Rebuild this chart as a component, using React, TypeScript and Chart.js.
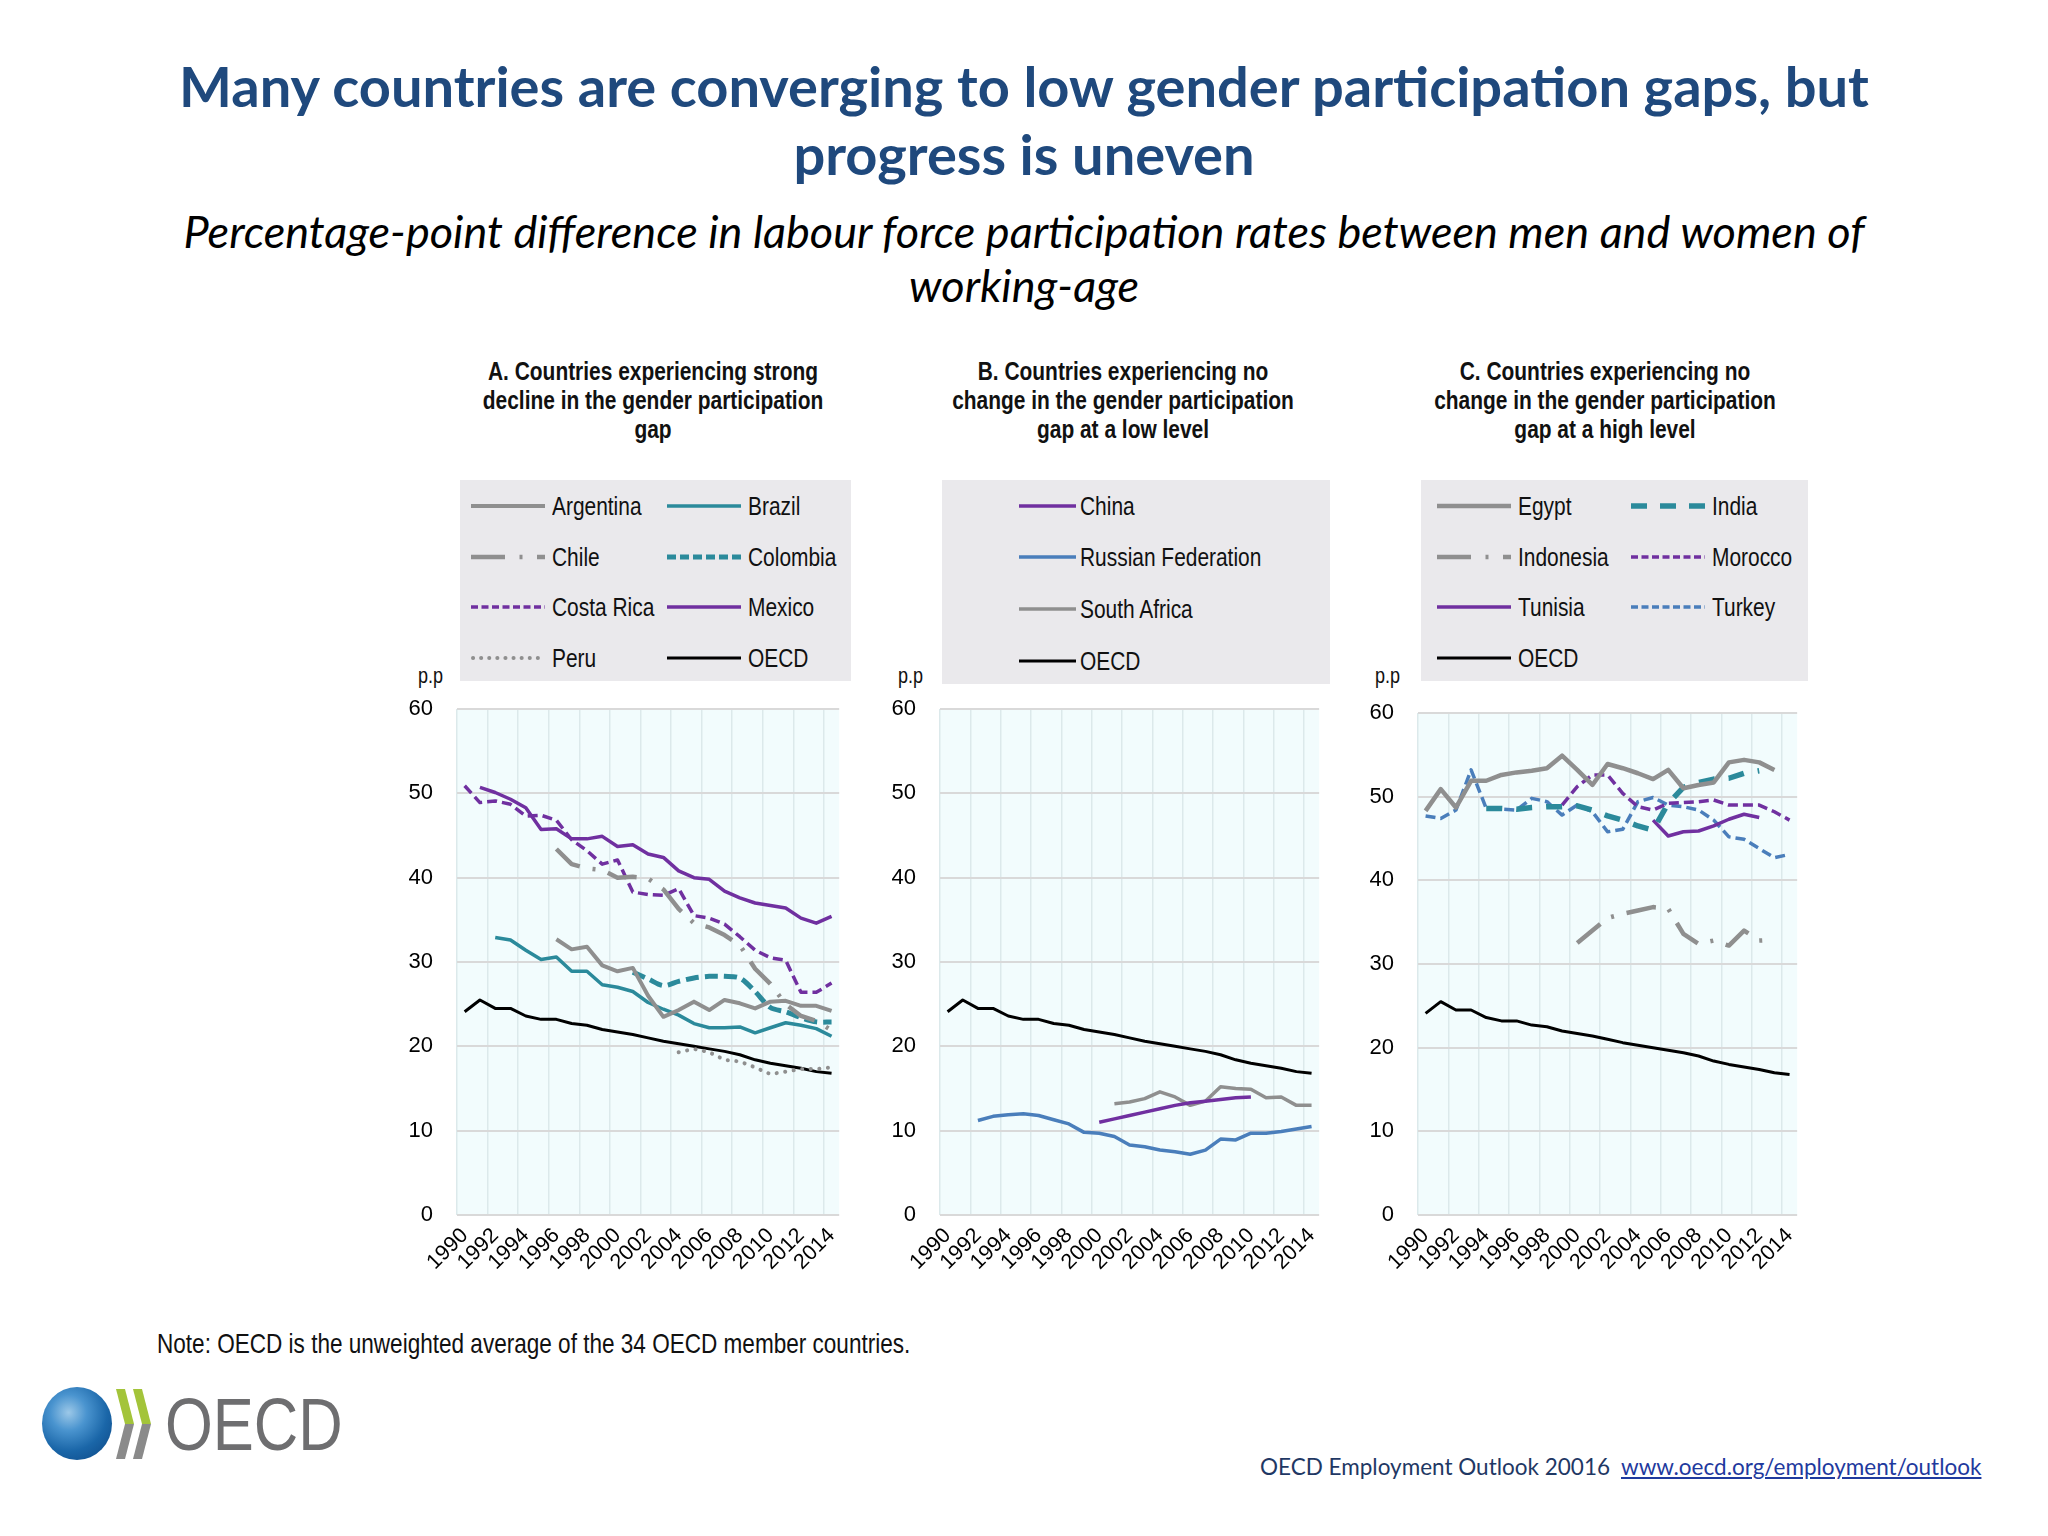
import React, { useEffect, useRef } from 'react';
import { Chart, registerables } from 'chart.js';

Chart.register(...registerables);

// ---------- DATA ----------
const YEARS = ['1990', '1991', '1992', '1993', '1994', '1995', '1996', '1997', '1998', '1999', '2000', '2001', '2002', '2003', '2004', '2005', '2006', '2007', '2008', '2009', '2010', '2011', '2012', '2013', '2014'];
const Y_MIN = 0;
const Y_MAX = 60;
const Y_STEP = 10;

// OECD unweighted average (1990-2014)
const OECD = [24.1, 25.5, 24.5, 24.5, 23.6, 23.2, 23.2, 22.7, 22.5, 22.0, 21.7, 21.4, 21.0, 20.6, 20.3, 20.0, 19.7, 19.4, 19.0, 18.4, 18.0, 17.7, 17.4, 17.0, 16.8];

// Panel A (first year given separately)
const ARGENTINA_START = 1996;
const ARGENTINA = [32.7, 31.5, 31.8, 29.6, 28.9, 29.3, 26.0, 23.5, 24.3, 25.3, 24.3, 25.5, 25.1, 24.5, 25.3, 25.4, 24.8, 24.8, 24.2];
const BRAZIL_START = 1992;
const BRAZIL = [32.9, 32.6, 31.4, 30.3, 30.6, 28.9, 28.9, 27.3, 27.0, 26.5, 25.2, 24.4, 23.7, 22.7, 22.2, 22.2, 22.3, 21.6, 22.2, 22.8, 22.5, 22.1, 21.2];
const CHILE_START = 1996;
const CHILE = [43.4, 41.6, 41.1, 40.9, 40.0, 40.1, 39.9, 38.6, 36.3, 34.6, 34.1, 33.2, 32.0, 29.2, 27.4, 25.0, 23.6, 23.0, 21.9];
const COLOMBIA_START = 2001;
const COLOMBIA = [28.8, 28.0, 27.2, 27.7, 28.1, 28.3, 28.3, 28.1, 26.5, 24.6, 24.1, 23.4, 22.9, 22.9];
const COSTA_RICA_START = 1990;
const COSTA_RICA = [50.9, 48.9, 49.1, 48.7, 47.3, 47.4, 46.8, 44.5, 43.2, 41.6, 42.1, 38.3, 38.0, 37.9, 38.7, 35.5, 35.2, 34.5, 33.0, 31.4, 30.5, 30.2, 26.4, 26.4, 27.5];
const MEXICO_START = 1991;
const MEXICO = [50.7, 50.1, 49.3, 48.3, 45.7, 45.8, 44.6, 44.6, 44.9, 43.7, 43.9, 42.8, 42.4, 40.8, 40.0, 39.8, 38.4, 37.6, 37.0, 36.7, 36.4, 35.2, 34.6, 35.4];
const PERU_START = 2004;
const PERU = [19.3, 19.7, 19.3, 18.4, 18.2, 17.5, 16.7, 17.0, 17.3, 17.3, 17.5];

// Panel B
const CHINA_START = 2000;
const CHINA = [11.0, 11.4, 11.8, 12.2, 12.6, 13.0, 13.3, 13.5, 13.7, 13.9, 14.0];
const RUSSIA_START = 1992;
const RUSSIA = [11.2, 11.7, 11.9, 12.0, 11.8, 11.3, 10.8, 9.8, 9.7, 9.3, 8.3, 8.1, 7.7, 7.5, 7.2, 7.7, 9.0, 8.9, 9.7, 9.7, 9.9, 10.2, 10.5];
const SOUTH_AFRICA_START = 2001;
const SOUTH_AFRICA = [13.2, 13.4, 13.8, 14.6, 14.0, 13.0, 13.5, 15.2, 15.0, 14.9, 13.9, 14.0, 13.0, 13.0];

// Panel C
const EGYPT_START = 1990;
const EGYPT = [48.3, 50.9, 48.7, 51.9, 51.9, 52.6, 52.9, 53.1, 53.4, 54.9, 53.2, 51.4, 53.9, 53.4, 52.8, 52.1, 53.2, 51.0, 51.4, 51.7, 54.1, 54.4, 54.1, 53.2];
const INDIA_START = 1994;
const INDIA = [48.6, 48.6, 48.5, 48.7, 48.8, 48.8, 48.9, 48.4, 47.7, 47.2, 46.5, 46.0, 49.2, 51.1, 51.7, 52.1, 52.2, 52.8, 53.1];
const INDONESIA_START = 2000;
const INDONESIA = [32.5, 34.0, 35.5, 36.0, 36.4, 36.8, 36.6, 33.6, 32.4, 32.8, 32.2, 34.0, 32.8, 32.9];
const MOROCCO_START = 1999;
const MOROCCO = [49.0, 51.2, 52.6, 52.6, 50.4, 48.8, 48.4, 49.2, 49.3, 49.4, 49.6, 49.0, 49.0, 49.0, 48.2, 47.2];
const TUNISIA_START = 2005;
const TUNISIA = [47.2, 45.3, 45.8, 45.9, 46.5, 47.3, 47.9, 47.5];
const TURKEY_START = 1990;
const TURKEY = [47.7, 47.4, 48.4, 53.2, 48.6, 48.5, 48.4, 49.8, 49.4, 47.8, 49.0, 48.2, 45.8, 46.1, 49.4, 49.9, 49.0, 48.8, 48.4, 47.2, 45.2, 44.9, 43.8, 42.7, 43.1];

// ---------- TEXT ----------
const TITLE_LINES = ['Many countries are converging to low gender participation gaps, but', 'progress is uneven'];
const SUBTITLE_LINES = ['Percentage-point difference in labour force participation rates between men and women of', 'working-age'];
const PANEL_A_TITLE = ['A. Countries experiencing strong', 'decline in the gender participation', 'gap'];
const PANEL_B_TITLE = ['B. Countries experiencing no', 'change in the gender participation', 'gap at a low level'];
const PANEL_C_TITLE = ['C. Countries experiencing no', 'change in the gender participation', 'gap at a high level'];
const UNIT_LABEL = 'p.p';
const NOTE = 'Note: OECD is the unweighted average of the 34 OECD member countries.';
const SOURCE = 'OECD Employment Outlook 20016';
const LINK = 'www.oecd.org/employment/outlook';

// ---------- STYLE ----------
const GRAY = '#8F8F8F';
const TEAL = '#2B8A9B';
const PURPLE = '#7030A0';
const BLUE = '#4A7EBB';
const BLACK = '#000000';
const ARIAL = "'Liberation Sans', Arial, sans-serif";
const HUMANIST = "Lato, 'Open Sans', sans-serif";
const NARROW_SCALE = 0.82;

function fromYear(start: number, values: number[]): (number | null)[] {
  const out: (number | null)[] = YEARS.map(() => null);
  values.forEach((v, i) => {
    out[start - 1990 + i] = v;
  });
  return out;
}

type Series = {
  label: string;
  data: (number | null)[];
  color: string;
  width: number;
  dash?: number[];
  legendDash?: string;
  cap?: 'butt' | 'round';
  tension?: number;
};

const CHILE_DASH = [30, 13, 3, 13];
const SHORT_DASH = [10, 5];

const oecdSeries: Series = { label: 'OECD', data: OECD, color: BLACK, width: 3 };

const PANEL_A: Record<string, Series> = {
  Argentina: { label: 'Argentina', data: fromYear(ARGENTINA_START, ARGENTINA), color: GRAY, width: 4 },
  Brazil: { label: 'Brazil', data: fromYear(BRAZIL_START, BRAZIL), color: TEAL, width: 3.5 },
  Chile: { label: 'Chile', data: fromYear(CHILE_START, CHILE), color: GRAY, width: 4.5, dash: CHILE_DASH, legendDash: '34 14.5 3 14.5' },
  Colombia: { label: 'Colombia', data: fromYear(COLOMBIA_START, COLOMBIA), color: TEAL, width: 5, dash: [13, 6], legendDash: '9 4', tension: 0.3 },
  'Costa Rica': { label: 'Costa Rica', data: fromYear(COSTA_RICA_START, COSTA_RICA), color: PURPLE, width: 3.5, dash: SHORT_DASH, legendDash: '7 3.5' },
  Mexico: { label: 'Mexico', data: fromYear(MEXICO_START, MEXICO), color: PURPLE, width: 3.5 },
  Peru: { label: 'Peru', data: fromYear(PERU_START, PERU), color: GRAY, width: 4, dash: [0.1, 8.5], legendDash: '0.1 8', cap: 'round' },
  OECD: oecdSeries,
};

const PANEL_B: Record<string, Series> = {
  China: { label: 'China', data: fromYear(CHINA_START, CHINA), color: PURPLE, width: 3.5 },
  'Russian Federation': { label: 'Russian Federation', data: fromYear(RUSSIA_START, RUSSIA), color: BLUE, width: 3.5 },
  'South Africa': { label: 'South Africa', data: fromYear(SOUTH_AFRICA_START, SOUTH_AFRICA), color: GRAY, width: 3.5 },
  OECD: oecdSeries,
};

const PANEL_C: Record<string, Series> = {
  Egypt: { label: 'Egypt', data: fromYear(EGYPT_START, EGYPT), color: GRAY, width: 4.5 },
  India: { label: 'India', data: fromYear(INDIA_START, INDIA), color: TEAL, width: 5.5, dash: [16, 14], legendDash: '16 13' },
  Indonesia: { label: 'Indonesia', data: fromYear(INDONESIA_START, INDONESIA), color: GRAY, width: 4.5, dash: CHILE_DASH, legendDash: '34 14.5 3 14.5' },
  Morocco: { label: 'Morocco', data: fromYear(MOROCCO_START, MOROCCO), color: PURPLE, width: 3.5, dash: SHORT_DASH, legendDash: '7 3.5' },
  Tunisia: { label: 'Tunisia', data: fromYear(TUNISIA_START, TUNISIA), color: PURPLE, width: 3.5 },
  Turkey: { label: 'Turkey', data: fromYear(TURKEY_START, TURKEY), color: BLUE, width: 3.5, dash: SHORT_DASH, legendDash: '7 3.5' },
  OECD: oecdSeries,
};

const plotBgPlugin = {
  id: 'plotBg',
  beforeDraw(chart: any) {
    const { ctx, chartArea } = chart;
    if (!chartArea) return;
    ctx.save();
    ctx.fillStyle = '#F2FCFD';
    ctx.fillRect(chartArea.left, chartArea.top, chartArea.right - chartArea.left, chartArea.bottom - chartArea.top);
    ctx.restore();
  },
};

const Y_AXIS_W = 70;
const X_AXIS_H = 80;

function PanelChart(props: { left: number; top: number; plotRight: number; plotTop: number; plotBottom: number; series: Series[] }) {
  const { left, top, plotRight, plotTop, plotBottom, series } = props;
  const ref = useRef<HTMLCanvasElement>(null);
  const width = plotRight - left + 10;
  const height = plotBottom - top + X_AXIS_H;
  useEffect(() => {
    const chart = new Chart(ref.current as HTMLCanvasElement, {
      type: 'line',
      data: {
        labels: YEARS,
        datasets: series.map((s) => ({
          label: s.label,
          data: s.data,
          borderColor: s.color,
          backgroundColor: s.color,
          borderWidth: s.width,
          borderDash: s.dash || [],
          borderCapStyle: s.cap || 'butt',
          borderJoinStyle: 'round',
          pointRadius: 0,
          pointHoverRadius: 0,
          fill: false,
          tension: s.tension || 0,
          spanGaps: false,
        })) as any,
      },
      options: {
        responsive: false,
        animation: false,
        events: [],
        layout: { padding: { top: plotTop - top, right: 10, left: 0, bottom: 0 } },
        plugins: { legend: { display: false }, tooltip: { enabled: false }, title: { display: false } },
        scales: {
          x: {
            type: 'category',
            offset: true,
            grid: {
              offset: true,
              drawTicks: false,
              lineWidth: 1.5,
              color: (ctx: any) => (ctx.index !== undefined && ctx.index % 2 === 0 ? '#DCE9EB' : 'rgba(0,0,0,0)'),
            },
            border: { display: false },
            ticks: {
              autoSkip: false,
              minRotation: 45,
              maxRotation: 45,
              padding: 8,
              color: '#000',
              font: { family: ARIAL, size: 21.5 },
              callback: (_v: any, i: number) => (i % 2 === 0 ? YEARS[i] : ''),
            },
            afterFit: (s: any) => {
              s.height = X_AXIS_H;
            },
          },
          y: {
            min: Y_MIN,
            max: Y_MAX,
            grid: { color: '#D9D9D9', lineWidth: 2, drawTicks: true, tickLength: 24, tickColor: 'rgba(0,0,0,0)' },
            border: { display: false },
            ticks: { stepSize: Y_STEP, padding: 0, color: '#000', font: { family: ARIAL, size: 22 } },
            afterFit: (s: any) => {
              s.width = Y_AXIS_W;
            },
          },
        },
      } as any,
      plugins: [plotBgPlugin],
    });
    return () => chart.destroy();
  }, []);
  return <canvas ref={ref} width={width} height={height} style={{ position: 'absolute', left, top, width, height }} />;
}

// Arial-Narrow-like text: Liberation Sans condensed horizontally
function NarrowText(props: { left: number; top: number; size: number; lh: number; text: string; bold?: boolean; color?: string }) {
  return (
    <div
      style={{
        position: 'absolute',
        left: props.left,
        top: props.top,
        lineHeight: props.lh + 'px',
        fontFamily: ARIAL,
        fontSize: props.size,
        fontWeight: props.bold ? 700 : 400,
        color: props.color || '#111',
        whiteSpace: 'nowrap',
        transform: `scaleX(${NARROW_SCALE})`,
        transformOrigin: 'left center',
      }}
    >
      {props.text}
    </div>
  );
}

type LegendCell = { s: Series; lineX: number; lineW: number; textX: number; y: number };

function LegendBox(props: { x: number; y: number; w: number; h: number; cells: LegendCell[] }) {
  const { x, y, w, h, cells } = props;
  return (
    <>
      <div style={{ position: 'absolute', left: x, top: y, width: w, height: h, background: '#EAE9EC' }} />
      {cells.map((c, i) => (
        <React.Fragment key={i}>
          <svg style={{ position: 'absolute', left: c.lineX, top: c.y - 6, width: c.lineW, height: 12, overflow: 'visible' }}>
            <line
              x1={c.s.cap === 'round' ? 2 : 0}
              y1={6}
              x2={c.lineW}
              y2={6}
              stroke={c.s.color}
              strokeWidth={c.s.width}
              strokeDasharray={c.s.legendDash || undefined}
              strokeLinecap={c.s.cap || 'butt'}
            />
          </svg>
          <NarrowText left={c.textX} top={c.y - 16} size={25.5} lh={32} text={c.s.label} />
        </React.Fragment>
      ))}
    </>
  );
}

function PanelTitle(props: { cx: number; lines: string[] }) {
  return (
    <div
      style={{
        position: 'absolute',
        left: props.cx - 300,
        width: 600,
        top: 357,
        lineHeight: '29px',
        fontFamily: ARIAL,
        fontWeight: 700,
        fontSize: 25.5,
        color: '#111',
        textAlign: 'center',
        transform: `scaleX(${NARROW_SCALE})`,
        transformOrigin: 'center center',
      }}
    >
      {props.lines.map((l, i) => (
        <div key={i}>{l}</div>
      ))}
    </div>
  );
}

function Logo() {
  return (
    <>
      <div
        style={{
          position: 'absolute',
          left: 42,
          top: 1387,
          width: 70,
          height: 73,
          borderRadius: '50%',
          background: 'radial-gradient(circle at 38% 35%, #9CC8E8 0%, #4A94CF 28%, #1A66A8 60%, #0B4380 100%)',
        }}
      />
      <svg style={{ position: 'absolute', left: 114, top: 1387, width: 44, height: 74 }} viewBox="0 0 44 74">
        <polygon points="2,2 11,2 20,37 11,37" fill="#A3C43A" />
        <polygon points="11,37 20,37 11,72 2,72" fill="#8A8A8A" />
        <polygon points="19,2 28,2 37,37 28,37" fill="#A3C43A" />
        <polygon points="28,37 37,37 28,72 19,72" fill="#8A8A8A" />
      </svg>
      <NarrowText left={165} top={1380} size={75} lh={88} text="OECD" color="#6E6E70" />
    </>
  );
}

export default function App() {
  const rowsA = [506, 557, 607, 658];
  const rowsB = [506, 557, 609, 661];
  const A = PANEL_A;
  const C = PANEL_C;
  const B = PANEL_B;
  const cellsA: LegendCell[] = [
    { s: A.Argentina, lineX: 471, lineW: 74, textX: 552, y: rowsA[0] },
    { s: A.Chile, lineX: 471, lineW: 74, textX: 552, y: rowsA[1] },
    { s: A['Costa Rica'], lineX: 471, lineW: 74, textX: 552, y: rowsA[2] },
    { s: A.Peru, lineX: 471, lineW: 74, textX: 552, y: rowsA[3] },
    { s: A.Brazil, lineX: 667, lineW: 74, textX: 748, y: rowsA[0] },
    { s: A.Colombia, lineX: 667, lineW: 74, textX: 748, y: rowsA[1] },
    { s: A.Mexico, lineX: 667, lineW: 74, textX: 748, y: rowsA[2] },
    { s: A.OECD, lineX: 667, lineW: 74, textX: 748, y: rowsA[3] },
  ];
  const cellsB: LegendCell[] = [
    { s: B.China, lineX: 1019, lineW: 57, textX: 1080, y: rowsB[0] },
    { s: B['Russian Federation'], lineX: 1019, lineW: 57, textX: 1080, y: rowsB[1] },
    { s: B['South Africa'], lineX: 1019, lineW: 57, textX: 1080, y: rowsB[2] },
    { s: B.OECD, lineX: 1019, lineW: 57, textX: 1080, y: rowsB[3] },
  ];
  const cellsC: LegendCell[] = [
    { s: C.Egypt, lineX: 1437, lineW: 74, textX: 1518, y: rowsA[0] },
    { s: C.Indonesia, lineX: 1437, lineW: 74, textX: 1518, y: rowsA[1] },
    { s: C.Tunisia, lineX: 1437, lineW: 74, textX: 1518, y: rowsA[2] },
    { s: C.OECD, lineX: 1437, lineW: 74, textX: 1518, y: rowsA[3] },
    { s: C.India, lineX: 1631, lineW: 74, textX: 1712, y: rowsA[0] },
    { s: C.Morocco, lineX: 1631, lineW: 74, textX: 1712, y: rowsA[1] },
    { s: C.Turkey, lineX: 1631, lineW: 74, textX: 1712, y: rowsA[2] },
  ];

  return (
    <div style={{ position: 'absolute', left: 0, top: 0, width: 2048, height: 1536, background: '#FFFFFF', overflow: 'hidden' }}>
      <div style={{ position: 'absolute', left: 0, width: 2048, top: 52, lineHeight: '68px', fontFamily: HUMANIST, fontWeight: 700, fontSize: 56, color: '#1F497D', textAlign: 'center', whiteSpace: 'nowrap' }}>
        {TITLE_LINES.map((l, i) => (
          <div key={i}>{l}</div>
        ))}
      </div>
      <div style={{ position: 'absolute', left: 0, width: 2048, top: 204, lineHeight: '54px', fontFamily: HUMANIST, fontStyle: 'italic', fontSize: 45, color: '#000', textAlign: 'center', whiteSpace: 'nowrap' }}>
        {SUBTITLE_LINES.map((l, i) => (
          <div key={i}>{l}</div>
        ))}
      </div>

      <PanelTitle cx={653} lines={PANEL_A_TITLE} />
      <PanelTitle cx={1123} lines={PANEL_B_TITLE} />
      <PanelTitle cx={1605} lines={PANEL_C_TITLE} />

      <LegendBox x={460} y={480} w={391} h={201} cells={cellsA} />
      <LegendBox x={942} y={480} w={388} h={204} cells={cellsB} />
      <LegendBox x={1421} y={480} w={387} h={201} cells={cellsC} />

      <NarrowText left={418} top={664} size={22} lh={24} text={UNIT_LABEL} />
      <NarrowText left={898} top={664} size={22} lh={24} text={UNIT_LABEL} />
      <NarrowText left={1375} top={664} size={22} lh={24} text={UNIT_LABEL} />

      <PanelChart left={387} top={690} plotRight={848} plotTop={709} plotBottom={1215} series={[A.Argentina, A.Brazil, A.Chile, A.Colombia, A['Costa Rica'], A.Mexico, A.Peru, A.OECD]} />
      <PanelChart left={870} top={690} plotRight={1328} plotTop={709} plotBottom={1215} series={[B.China, B['Russian Federation'], B['South Africa'], B.OECD]} />
      <PanelChart left={1348} top={690} plotRight={1806} plotTop={713} plotBottom={1215} series={[C.Egypt, C.India, C.Indonesia, C.Morocco, C.Tunisia, C.Turkey, C.OECD]} />

      <NarrowText left={157} top={1328} size={27.5} lh={32} text={NOTE} />

      <Logo />

      <div style={{ position: 'absolute', left: 1260, top: 1452, lineHeight: '30px', fontFamily: HUMANIST, fontSize: 22.5, color: '#1F3864', whiteSpace: 'nowrap' }}>{SOURCE}</div>
      <div style={{ position: 'absolute', left: 1621, top: 1452, lineHeight: '30px', fontFamily: HUMANIST, fontSize: 22.5, color: '#1F3A9E', textDecoration: 'underline', whiteSpace: 'nowrap' }}>{LINK}</div>
    </div>
  );
}
